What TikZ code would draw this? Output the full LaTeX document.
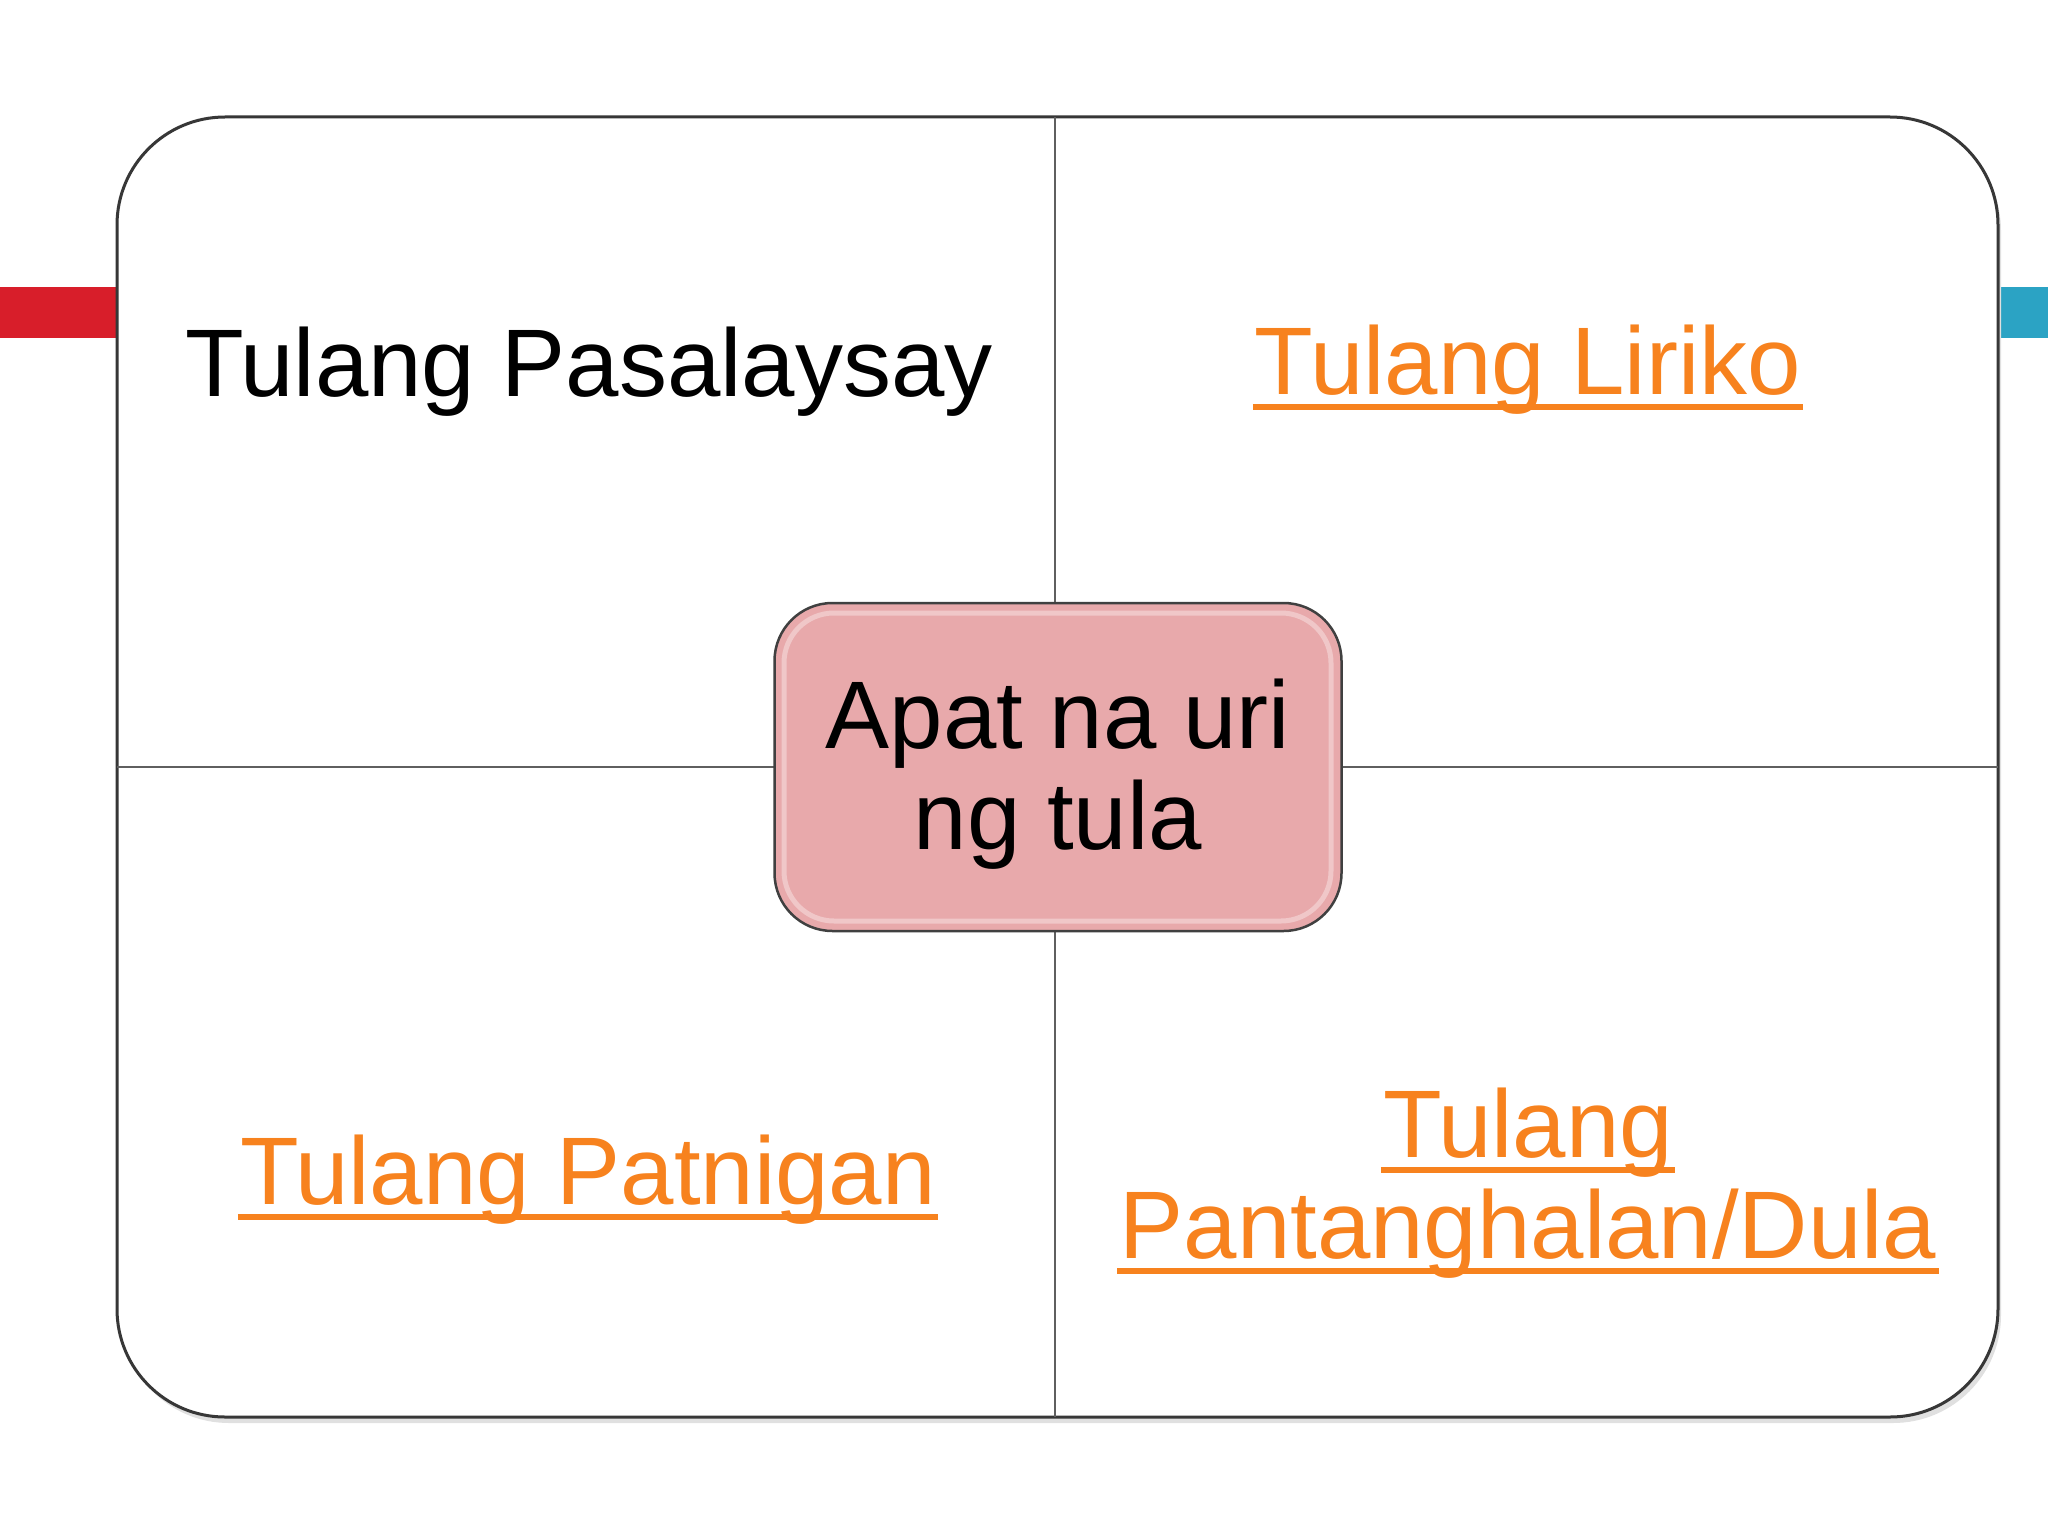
\documentclass[tikz,border=0pt]{standalone}
\usepackage{fontspec}
\setmainfont{Liberation Sans}
\definecolor{redbar}{RGB}{216,30,42}
\definecolor{bluebar}{RGB}{43,163,196}
\definecolor{orangetxt}{RGB}{247,130,30}
\definecolor{pinkfill}{RGB}{232,169,171}
\definecolor{framegray}{RGB}{55,55,55}
\definecolor{divgray}{RGB}{95,95,95}
\begin{document}
\begin{tikzpicture}[x=1pt,y=-1pt,
  bigtext/.style={font=\fontsize{96}{100}\selectfont, inner sep=0pt, anchor=base},
  linktext/.style={bigtext, text=orangetxt},
  uline/.style={orangetxt, line width=5.5pt},
  frame/.style={draw=framegray, line width=3pt, fill=white, rounded corners=108pt},
  divider/.style={draw=divgray, line width=2.5pt},
  centerbox/.style={draw=black!75, line width=2.5pt, fill=pinkfill, rounded corners=58pt,
    minimum width=567pt, minimum height=328pt, inner sep=0pt, align=center,
    font=\fontsize{96}{100}\selectfont}
]
\useasboundingbox (0,0) rectangle (2048,1536);
\fill[white] (0,0) rectangle (2048,1536);
% side bars
\fill[redbar] (0,287) rectangle (118,338);
\fill[bluebar] (1998,287) rectangle (2048,338);
% shadow of frame
\fill[black!12, rounded corners=108pt] (121,123) rectangle (2001,1423);
% frame
\path[frame] (117,117) rectangle (1998,1417);
% dividers
\coordinate (vt) at (1055,117);
\coordinate (vb) at (1055,1417);
\coordinate (hl) at (117,767);
\coordinate (hr) at (1998,767);
\draw[divider] (vt) -- (vb);
\draw[divider] (hl) -- (hr);
% center box
\node[centerbox] (c) at (1058,767) {};
\draw[white, opacity=0.35, line width=5pt, rounded corners=50pt]
  (784,613) rectangle (1331,921);
\node[bigtext, anchor=base] (c1) at (1058,748) {Apat na uri};
\node[bigtext, anchor=base] (c2) at (1058,849) {ng tula};
% quadrant texts
\node[bigtext] (pasalaysay) at (589,396) {Tulang Pasalaysay};
\node[linktext] (liriko) at (1528,394) {Tulang Liriko};
\draw[uline] ([xshift=-2pt,yshift=-13pt]liriko.base west) -- ([xshift=2pt,yshift=-13pt]liriko.base east);
\node[linktext] (patnigan) at (588,1204) {Tulang Patnigan};
\draw[uline] ([xshift=-2pt,yshift=-13pt]patnigan.base west) -- ([xshift=2pt,yshift=-13pt]patnigan.base east);
\node[linktext] (dula1) at (1528,1157) {Tulang};
\draw[uline] ([xshift=-2pt,yshift=-13pt]dula1.base west) -- ([xshift=2pt,yshift=-13pt]dula1.base east);
\node[linktext] (dula2) at (1528,1258) {Pantanghalan/Dula};
\draw[uline] ([xshift=-2pt,yshift=-13pt]dula2.base west) -- ([xshift=2pt,yshift=-13pt]dula2.base east);
\end{tikzpicture}
\end{document}
